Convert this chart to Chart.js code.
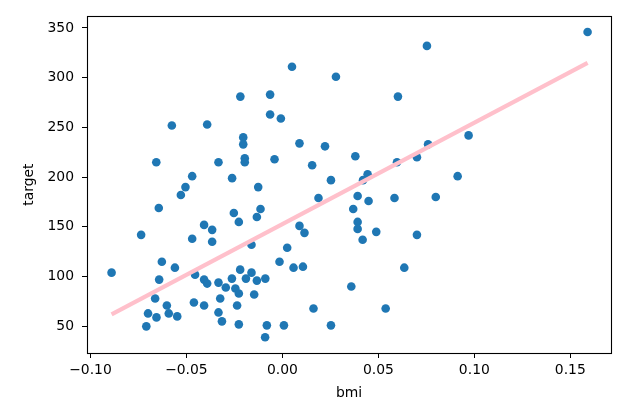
<!DOCTYPE html>
<html>
<head>
<meta charset="utf-8">
<script src="https://cdn.jsdelivr.net/npm/chart.js@4"></script>
<style>
  html, body { margin: 0; padding: 0; background: #fff; }
</style>
</head>
<body>
<canvas id="scatterChart" width="638" height="415"></canvas>
<script>
// values
const bmi = [
    -0.0219, -0.0576, -0.0392, -0.0204, -0.0204, -0.0657, -0.0333, -0.0196, -0.0196, -0.0470,
    -0.0262, -0.0126, -0.0505, -0.0529, -0.0644, -0.0253, -0.0227, -0.0133, -0.0408, -0.0366,
    -0.0736, -0.0470, -0.0366, -0.0161, -0.0628, -0.0560, -0.0890, -0.0220, -0.0161, -0.0455,
    -0.0642, -0.0408, -0.0392, -0.0333, -0.0263, -0.0295, -0.0245, -0.0190, -0.0133, -0.0227,
    -0.0147, -0.0663, -0.0324, -0.0461, -0.0408, -0.0236, -0.0602, -0.0700, -0.0656, -0.0592,
    -0.0548, -0.0333, -0.0315, -0.0709, -0.0227, 0.0753, 0.0050, 0.0279, -0.0064, 0.0602,
    -0.0064, -0.0008, 0.0089, 0.0222, -0.0041, 0.0380, 0.0155, 0.0253, 0.0444, 0.0597,
    0.0701, 0.0759, 0.0420, 0.0188, 0.0392, 0.0449, 0.0584, -0.0114, 0.0369, 0.0392,
    0.0392, 0.0089, 0.0115, 0.0489, 0.0701, 0.0418, 0.0025, -0.0015, 0.0058, 0.0107,
    -0.0089, 0.0635, 0.0359, 0.0162, 0.0538, -0.0081, 0.0008, 0.0253, -0.0090, 0.1590,
    0.0970, 0.0913, 0.0799
];
const target = [
    281, 252, 253, 240, 233, 215, 215, 219, 215, 201,
    199, 190, 190, 182, 169, 164, 155, 160, 152, 147,
    142, 138, 135, 132, 115, 109, 104, 107, 104, 102,
    97, 97, 93, 94, 98, 89, 88, 98, 96, 83,
    82, 78, 78, 74, 71, 71, 71, 63, 59, 63,
    60, 64, 55, 50, 52, 332, 311, 301, 283, 281,
    263, 259, 234, 231, 218, 221, 212, 197, 203, 215,
    220, 233, 197, 179, 181, 176, 179, 168, 168, 155,
    148, 151, 144, 145, 142, 137, 129, 115, 109, 110,
    98, 109, 90, 68, 68, 51, 51, 51, 39, 346,
    242, 201, 180
];
// fitted line ends
const fitBmi = [-0.089, 0.159];
const fitTarget = [62, 315];

const xTicks = [-0.10, -0.05, 0.00, 0.05, 0.10, 0.15];
const yTicks = [50, 100, 150, 200, 250, 300, 350];

const tickFont = { family: "DejaVu Sans", size: 13.9 };

const frame = {
    id: 'frame',
    afterDatasetsDraw(chart) {
        const a = chart.chartArea;
        const ctx = chart.ctx;
        ctx.save();
        ctx.strokeStyle = '#000';
        ctx.lineWidth = 1.1;
        ctx.strokeRect(Math.round(a.left) + 0.5, Math.round(a.top) + 0.5,
            Math.round(a.right - a.left), Math.round(a.bottom - a.top));
        ctx.restore();
    }
};

new Chart(document.getElementById("scatterChart"), {
    type: 'scatter',
    data: {
        datasets: [
            {
                data: fitBmi.map((v, i) => ({ x: v, y: fitTarget[i] })),
                showLine: true,
                borderColor: 'pink',
                borderWidth: 4.2,
                pointRadius: 0,
                order: 0
            },
            {
                data: bmi.map((v, i) => ({ x: v, y: target[i] })),
                backgroundColor: '#1f77b4',
                borderWidth: 0,
                pointRadius: 4.3,
                order: 1
            }
        ]
    },
    options: {
        responsive: false,
        devicePixelRatio: 1,
        animation: false,
        layout: { padding: { top: 13, right: 27, bottom: 0, left: 0 } },
        plugins: { legend: { display: false }, tooltip: { enabled: false } },
        scales: {
            x: {
                type: 'linear',
                min: -0.1018,
                max: 0.1712,
                afterBuildTicks: (s) => { s.ticks = xTicks.map(v => ({ value: v })); },
                afterFit: (s) => { s.height = 62; },
                grid: { drawOnChartArea: false, color: '#000', tickLength: 5 },
                border: { display: false },
                ticks: {
                    color: '#000',
                    font: tickFont,
                    padding: 4,
                    maxRotation: 0,
                    callback: (v) => (v < 0 ? '\u2212' : '') + Math.abs(v).toFixed(2)
                },
                title: {
                    display: true,
                    text: 'bmi',
                    color: '#000',
                    font: tickFont,
                    padding: { top: 0, bottom: 13 }
                }
            },
            y: {
                type: 'linear',
                min: 23.2,
                max: 361.7,
                afterBuildTicks: (s) => { s.ticks = yTicks.map(v => ({ value: v })); },
                afterFit: (s) => { s.width = 87; },
                grid: { drawOnChartArea: false, color: '#000', tickLength: 5 },
                border: { display: false },
                ticks: {
                    color: '#000',
                    font: tickFont,
                    padding: 8,
                    callback: (v) => String(v)
                },
                title: {
                    display: true,
                    text: 'target',
                    color: '#000',
                    font: tickFont,
                    padding: { top: 21, bottom: 0 }
                }
            }
        }
    },
    plugins: [frame]
});
</script>
</body>
</html>
